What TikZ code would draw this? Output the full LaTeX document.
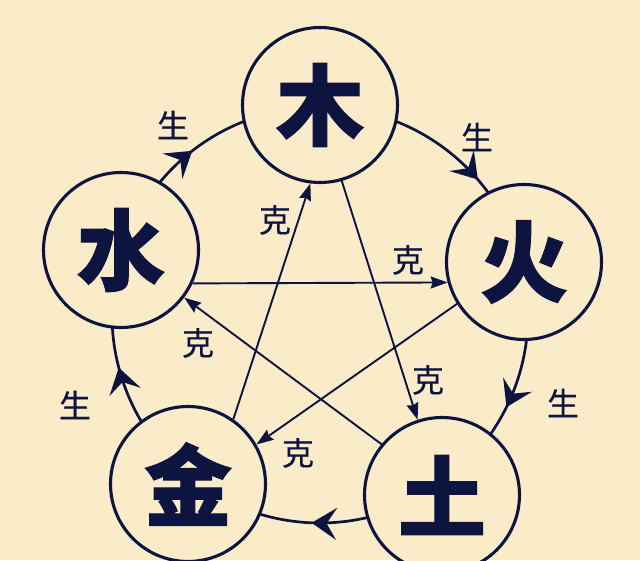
\documentclass[tikz,border=0pt]{standalone}
\usepackage{fontspec}
\newfontfamily\cjk[BoldFeatures={FakeBold=1.2}]{Noto Sans CJK SC}
\newfontfamily\cjklabel[FakeBold=0.4]{Noto Sans CJK SC}
\usetikzlibrary{arrows.meta,decorations.markings}
\definecolor{bg}{RGB}{250,236,200}
\definecolor{ink}{RGB}{14,20,64}
\begin{document}
\begin{tikzpicture}[x=1pt,y=1pt,
  elem/.style={circle, draw=ink, line width=3.1pt, fill=bg, minimum size=155pt, inner sep=0pt, text=ink, font=\cjk\bfseries\fontsize{88}{88}\selectfont},
  lbl/.style={text=ink, font=\cjklabel\fontsize{32}{32}\selectfont, inner sep=0pt},
  sheng/.style={draw=ink, line width=2.7pt, postaction=decorate, decoration={markings, mark=at position #1 with {\arrow{Stealth[length=25pt,width=32pt,inset=10pt]}}}},
  ke/.style={draw=ink, line width=1.9pt, -{Stealth[length=17pt,width=12pt,inset=2pt]}}
]
\fill[bg] (0,0) rectangle (640,560);
\useasboundingbox (0,0) rectangle (640,560);
\clip (0,0) rectangle (640,560);
\coordinate (O) at (320,245);
% sheng arcs (drawn first, covered by the element circles)
\draw[sheng=0.473] (O) ++(161.9:208) arc[start angle=161.9, end angle=90, radius=208];
\draw[sheng=0.655] (O) ++(90:208) arc[start angle=90, end angle=14.6, radius=208];
\draw[sheng=0.580] (O) ++(14.6:208) arc[start angle=14.6, end angle=-55.9, radius=208];
\draw[sheng=0.505] (O) ++(-55.9:208) arc[start angle=-55.9, end angle=-128, radius=208];
\draw[sheng=0.533] (O) ++(-128:208) arc[start angle=-128, end angle=-198.1, radius=208];
% elements
\node[elem] (mu) at (320,455) {木};
\node[elem] (huo) at (524,298) {火};
\node[elem] (tu) at (442,65) {土};
\node[elem] (jin) at (188,76) {金};
\node[elem] (shui) at (121,310) {水};
% ke lines
\draw[ke] (jin.55) -- (mu.263);
\draw[ke] (shui.-25) -- (huo.195);
\draw[ke] (mu.286) -- (tu.108);
\draw[ke] (huo.212) -- (jin.30);
\draw[ke] (tu.140) -- (shui.-37);
% labels
\node[lbl] (s1) at (173,435) {生};
\node[lbl] (s2) at (477,423) {生};
\node[lbl] (s3) at (563,157) {生};
\node[lbl] (s4) at (75,155) {生};
\node[lbl] (k1) at (275,340) {克};
\node[lbl] (k2) at (408,300) {克};
\node[lbl] (k3) at (198,217) {克};
\node[lbl] (k4) at (298,107) {克};
\node[lbl] (k5) at (428,180) {克};
\end{tikzpicture}
\end{document}
